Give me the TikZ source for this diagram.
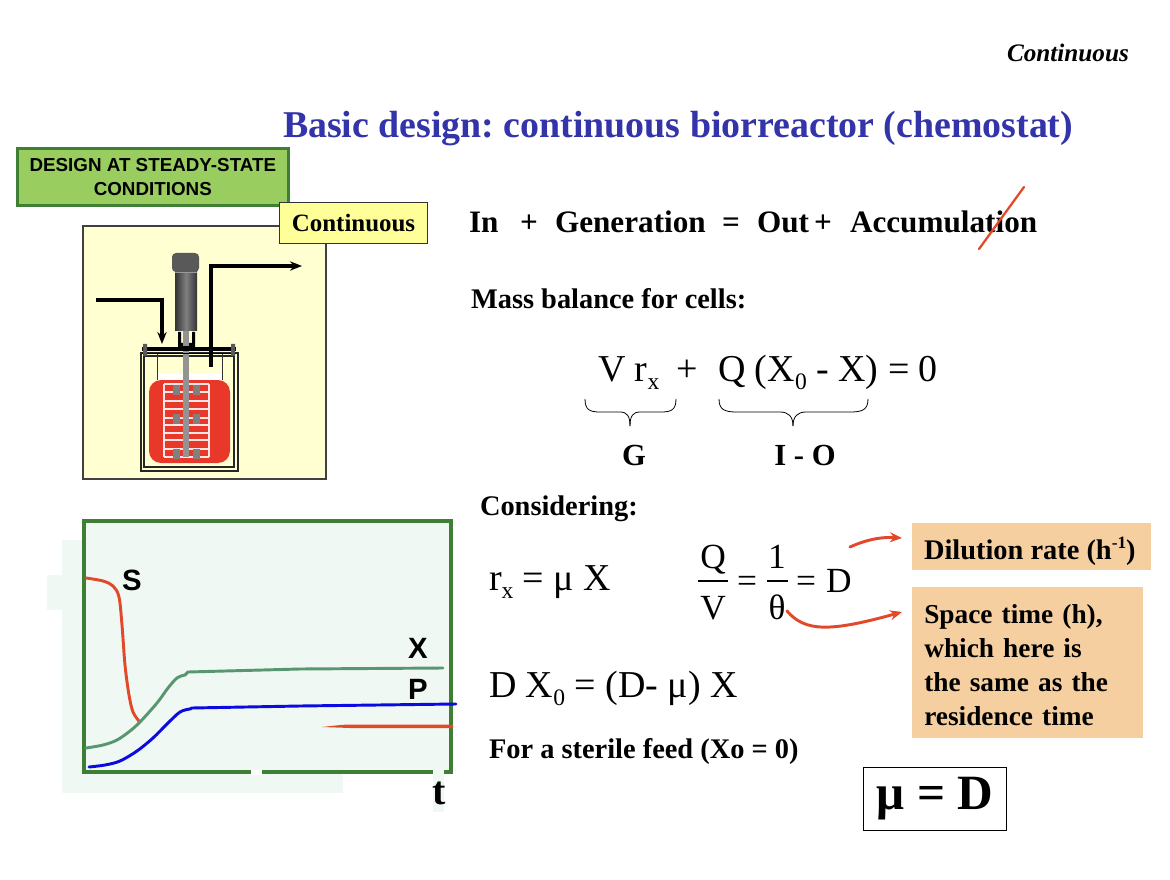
\documentclass[tikz,border=0pt]{standalone}
\usepackage{fontspec}
\setmainfont{Liberation Serif}
\newfontfamily\arialf{Liberation Sans}
\usetikzlibrary{arrows.meta}
\frenchspacing
\newcommand{\fsz}[1]{\fontsize{#1}{#1}\selectfont}
\newcommand{\subx}[1]{\raisebox{-0.22em}{\fontsize{0.62em}{0.62em}\selectfont #1}}
\definecolor{framegreen}{HTML}{3F7F35}
\definecolor{plotbg}{HTML}{EFF8F2}
\definecolor{orangered}{HTML}{E2492B}
\definecolor{vesselred}{HTML}{E8382A}
\definecolor{peach}{HTML}{F6CFA0}
\definecolor{creamy}{HTML}{FFFFD2}
\definecolor{titleblue}{HTML}{3333AA}
\definecolor{designgreen}{HTML}{9ACD5F}
\definecolor{contyellow}{HTML}{FFFF99}
\definecolor{xgreen}{HTML}{589670}
\definecolor{pblue}{HTML}{0A0AE1}
\tikzset{
  x=0.75pt,y=-0.75pt,
  lbl/.style={anchor=base west,inner sep=0pt,outer sep=0pt,yshift=-0.75pt},
  bold24/.style={lbl,font=\bfseries\fsz{21.3}},
  eq/.style={lbl,font=\fsz{28.5}},
  frac/.style={lbl,anchor=base,font=\fsz{26.5}},
  curvelbl/.style={anchor=center,inner sep=0pt,font=\arialf\bfseries\fsz{22}},
  flow/.style={line width=2.6pt,-{Stealth[length=9pt,width=7pt]}},
  call/.style={color=orangered,line width=2.2pt,line cap=round,-{Stealth[length=9pt,width=7.5pt]}},
  brc/.style={line width=0.6pt,black},
  curve/.style={line width=2.2pt,line cap=round},
  peachbox/.style={fill=peach,draw=none,inner sep=0pt,anchor=north west}
}
\begin{document}
\begin{tikzpicture}
\useasboundingbox (0,0) rectangle (1170,880);
\fill[white] (0,0) rectangle (1170,880);
% headings
\node[lbl,font=\bfseries\itshape\fsz{18.9}] (hdr) at (1007,61) {Continuous};
\node[lbl,font=\bfseries\fsz{28.4},text=titleblue] (title) at (283,137) {Basic design: continuous biorreactor (chemostat)};
% reactor panel
\draw[fill=creamy,draw=black!75,line width=0.9pt] (83,226) rectangle (326,479);
\node[draw=framegreen,line width=2.2pt,fill=designgreen,minimum width=203pt,minimum height=42.5pt,inner sep=0pt,anchor=north west,align=center,font=\arialf\bfseries\fontsize{14.1}{18}\selectfont] (design) at (16,147) {DESIGN AT STEADY-STATE\\CONDITIONS};
\node[draw=black!80,line width=0.8pt,fill=contyellow,minimum width=111pt,minimum height=31pt,inner sep=0pt,anchor=north west,font=\bfseries\fsz{18.7}] (contbox) at (279,202) {Continuous};
% vessel
\draw[black!85,line width=0.8pt] (141,353) rectangle (238,471);
\draw[black!85,line width=0.8pt] (144,356) rectangle (234,467);
\fill[white] (157,373) rectangle (222,382);
\fill[vesselred,rounded corners=9pt] (149,380) rectangle (230,463);
\draw[black!80,line width=0.5pt] (157,353) -- (157,380) (222,353) -- (222,380);
% white grid
\foreach \yy in {384,392,401,409,418,425,433,440,449,457}
  \draw[white!90!red,line width=0.8pt] (164,\yy) -- (209,\yy);
\draw[white!90!red,line width=0.8pt] (164,384) -- (164,457) (209,384) -- (209,457);
% paddles
\foreach \yy in {385,414,449}
  \foreach \xx in {173,193}
    \fill[gray] (\xx,\yy) rectangle ++(7,10);
% shaft and motor
\fill[gray!85] (183,331) rectangle (189,457);
\fill[black] (142,347) rectangle (236,351);
\draw[black,line width=0.7pt] (142,353) -- (236,353);
\fill[gray!70!black] (143,344) rectangle (147,356) (231,344) rectangle (235,356);
\fill[black] (178,332) rectangle (181,347) (192,332) rectangle (195,347) (178,343) rectangle (195,347);
\fill[gray!85] (183,331) rectangle (189,346);
\shade[left color=black!80,right color=black!80,middle color=black!50] (175,272) rectangle (197,331);
\fill[black!65,rounded corners=3pt] (172,253) rectangle (199,272);
\draw[black!40,line width=0.3pt] (175,272) -- (197,272);
% flows
\coordinate (inA) at (96,300);
\coordinate (inB) at (162,300);
\coordinate (inC) at (162,344);
\coordinate (outA) at (211,367);
\coordinate (outB) at (211,266);
\coordinate (outC) at (302,266);
\draw[flow] (inA) -- (inB) -- (inC);
\draw[flow] (outA) -- (outB) -- (outC);
% balance
\node[lbl,font=\bfseries\fsz{23.4}] (bIn) at (469,232) {In};
\node[lbl,font=\bfseries\fsz{23.4}] (bP1) at (520,232) {+};
\node[lbl,font=\bfseries\fsz{23.4}] (bGen) at (555,232) {Generation};
\node[lbl,font=\bfseries\fsz{23.4}] (bEq) at (722,232) {=};
\node[lbl,font=\bfseries\fsz{23.4}] (bOut) at (757,232) {Out};
\node[lbl,font=\bfseries\fsz{23.4}] (bP2) at (814,232) {+};
\node[lbl,font=\bfseries\fsz{23.4}] (bAcc) at (850,232) {Accumulation};
\draw[orangered,line width=1.7pt,line cap=round] (979,249) -- (1024,187);
\node[bold24] (mass) at (471,308) {Mass balance for cells:};
\node[eq] (eqa) at (598,380) {V r\subx{x}};
\node[eq] (eqp) at (676,380) {+};
\node[eq] (eqb) at (718,380) {Q (X\subx{0} - X) = 0};
% braces
\draw[brc] (585,399) .. controls (585,410) and (590,412) .. (600,412) -- (620,412) .. controls (627,412) and (630,416) .. (630,426);
\draw[brc] (676,399) .. controls (676,410) and (671,412) .. (661,412) -- (640,412) .. controls (633,412) and (630,416) .. (630,426);
\draw[brc] (719,399) .. controls (719,410) and (725,412) .. (737,412) -- (780,412) .. controls (788,412) and (793,416) .. (793,426);
\draw[brc] (868,399) .. controls (868,410) and (862,412) .. (850,412) -- (806,412) .. controls (798,412) and (793,416) .. (793,426);
\node[lbl,anchor=base,font=\bfseries\fsz{23}] (g) at (634,464) {G};
\node[lbl,anchor=base,font=\bfseries\fsz{23}] (io) at (805,464) {I - O};
\node[bold24] (cons) at (480,514) {Considering:};
% equations
\node[eq] (rx) at (489,589) {r\subx{x} = μ X};
\node[frac] (qq) at (713,567) {Q};
\node[frac] (vv) at (713,618) {V};
\node[frac] (one) at (777,567) {1};
\node[frac] (th) at (777,618) {θ};
\draw[black,line width=0.8pt] (698,581) -- (728,581) (767,581) -- (788,581);
\node[lbl,font=\fsz{26.5}] (e1) at (737,591) {=};
\node[lbl,font=\fsz{26.5}] (e2) at (796,591) {=};
\node[lbl,font=\fsz{26.5}] (dd) at (826,591) {D};
\node[eq] (dx) at (489,696) {D X\subx{0} = (D- μ) X};
\node[bold24] (feed) at (489,757) {For a sterile feed (Xo = 0)};
% callouts
\node[peachbox,minimum width=179pt,minimum height=35pt] (dil) at (912,523) {};
\node[lbl,font=\bfseries\fsz{21.3}] (diltxt) at (924,558) {Dilution rate (h\raisebox{0.38em}{\fsz{13}-1})};
\node[peachbox,minimum width=173pt,minimum height=113pt] (space) at (912,587) {};
\node[anchor=north west,inner sep=0pt,align=left,font=\bfseries\fontsize{20.5}{25.5}\selectfont,text width=155pt] (spacetxt) at (924,604) {Space time (h),\\which here is\\the same as the\\residence time};
\coordinate (arA) at (850,547);
\coordinate (arB) at (902,538);
\coordinate (arC) at (787,611);
\coordinate (arD) at (902,612);
\draw[call] (arA) .. controls (870,538) and (885,537) .. (arB);
\draw[call] (arC) .. controls (805,632) and (830,632) .. (arD);
\node[draw=black,line width=0.9pt,fill=white,minimum width=107pt,minimum height=47pt,inner sep=0pt,anchor=north west,font=\bfseries\fsz{37}] (mu) at (863,767) {μ = D};
% plot
\fill[plotbg] (62,540) rectangle (343,793);
\fill[plotbg] (47,575) rectangle (62,610);
\fill[plotbg] (433,772) rectangle (444,812);
\fill[plotbg] (83,521) rectangle (452,772);
\draw[framegreen,line width=2.3pt] (84,521) rectangle (451,772);
\fill[white] (251,770) rectangle (262,775);
\fill[plotbg] (433,770) rectangle (444,775);
% curves
\draw[curve,orangered] plot[smooth,tension=0.55] coordinates {(86,578) (103,581) (113,586) (119,597) (122,625) (125,665) (129,695) (133,712) (139,721)};
\draw[curve,xgreen] plot[smooth,tension=0.55] coordinates {(86,748) (103,745) (117,740) (130,731) (140,722) (157,703) (168,688) (177,678) (185,675)} -- (188,672) -- (300,669) -- (443,668);
\draw[curve,pblue] plot[smooth,tension=0.55] coordinates {(89,767) (105,765) (120,761) (137,751) (153,738) (167,724) (180,712) (190,709)} -- (192,708) -- (300,706) -- (456,704);
\fill[orangered] (322,727) .. controls (335,725.5) and (345,724.5) .. (350,724.5) -- (453,724.5) -- (453,728) -- (350,728) -- cycle;
\node[curvelbl] (lS) at (132,580) {S};
\node[curvelbl] (lX) at (418,648) {X};
\node[curvelbl] (lP) at (418,689) {P};
\node[anchor=center,inner sep=0pt,font=\bfseries\fsz{30}] (lt) at (439,793) {t};
\end{tikzpicture}
\end{document}
